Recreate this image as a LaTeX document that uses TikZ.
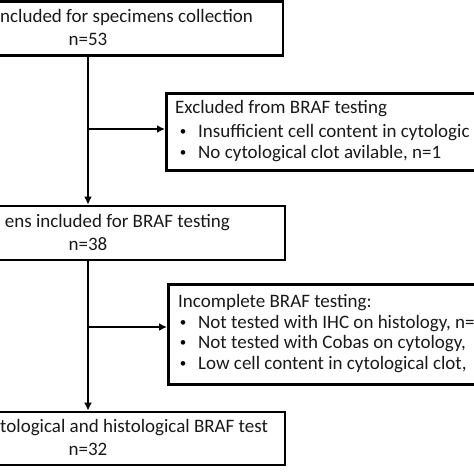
\documentclass[tikz,border=0pt]{standalone}
\usepackage{fontspec}
\setmainfont{Carlito}
\usetikzlibrary{arrows.meta}
\begin{document}
\begin{tikzpicture}[x=1pt,y=-1pt,
  box/.style={draw=black,line width=2.8pt,rectangle,inner sep=0pt},
  txt/.style={inner sep=0pt,font=\fontsize{19}{22}\selectfont,text=black!90},
  bul/.style={inner sep=0pt,font=\fontsize{13}{15}\selectfont,text=black},
  arr/.style={line width=2.6pt,-{Latex[length=8pt,width=8pt]}}]
\useasboundingbox (0,0) rectangle (474,474);
\clip (0,0) rectangle (474,474);
% boxes
\node[box,minimum width=390pt,minimum height=54pt] (b1) at (88,28.5) {};
\node[box,minimum width=394pt,minimum height=54pt] (b3) at (88,233) {};
\node[box,minimum width=394pt,minimum height=53pt] (b5) at (88,438.5) {};
\node[box,minimum width=360pt,minimum height=77pt,anchor=north west] (b2) at (165,92) {};
\node[box,minimum width=360pt,minimum height=100pt,anchor=north west] (b4) at (167,283) {};
% texts
\node[txt,anchor=base west] (t1a) at (0,22) {ncluded for specimens collection};
\node[txt,anchor=base] (t1b) at (88,45) {n=53};
\node[txt,anchor=base east] (t3a) at (230,227) {ens included for BRAF testing};
\node[txt,anchor=base] (t3b) at (88,250) {n=38};
\node[txt,anchor=base west] (t5a) at (0,432) {tological and histological BRAF test};
\node[txt,anchor=base] (t5b) at (88,455) {n=32};
\node[txt,anchor=base west] (t2a) at (175,113) {Excluded from BRAF testing};
\node[bul,anchor=base] (t2bb) at (183,135) {•};
\node[txt,anchor=base west] (t2b) at (198,137) {Insufficient cell content in cytologic};
\node[bul,anchor=base] (t2cb) at (183,156) {•};
\node[txt,anchor=base west] (t2c) at (198,158) {No cytological clot avilable, n=1};
\node[txt,anchor=base west] (t4a) at (178,307) {Incomplete BRAF testing:};
\node[bul,anchor=base] (t4bb) at (183,326) {•};
\node[txt,anchor=base west] (t4b) at (198,328) {Not tested with IHC on histology, n=};
\node[bul,anchor=base] (t4cb) at (183,346) {•};
\node[txt,anchor=base west] (t4c) at (198,348) {Not tested with Cobas on cytology,};
\node[bul,anchor=base] (t4db) at (183,367) {•};
\node[txt,anchor=base west] (t4d) at (198,369) {Low cell content in cytological clot,};
% connectors
\coordinate (j1) at (88,129);
\coordinate (j2) at (88,327);
\draw[arr] (b1.south) -- (b3.north);
\draw[arr] (b3.south) -- (b5.north);
\draw[arr] (j1) -- (j1 -| b2.west);
\draw[arr] (j2) -- (j2 -| b4.west);
\end{tikzpicture}
\end{document}
